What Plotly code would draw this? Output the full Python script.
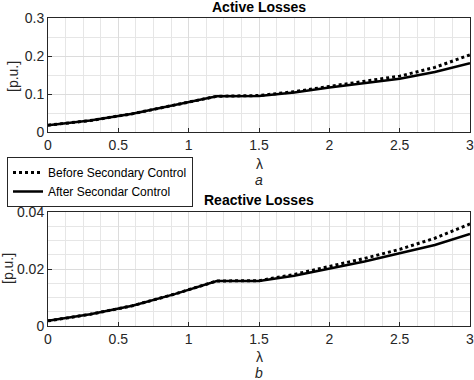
import plotly.graph_objects as go

lam = [0, 0.3, 0.6, 0.9, 1.2, 1.5, 1.75, 2.0, 2.25, 2.5, 2.75, 3.0]
active_before = [0.018, 0.030, 0.048, 0.072, 0.094, 0.096, 0.106, 0.120, 0.133, 0.147, 0.170, 0.203]
active_after = [0.018, 0.030, 0.048, 0.072, 0.094, 0.095, 0.104, 0.117, 0.128, 0.140, 0.158, 0.181]
reactive_before = [0.0018, 0.0041, 0.0071, 0.0112, 0.0158, 0.0159, 0.0181, 0.0208, 0.0237, 0.0269, 0.0308, 0.0358]
reactive_after = [0.0018, 0.0041, 0.0071, 0.0112, 0.0158, 0.0158, 0.0176, 0.0200, 0.0226, 0.0255, 0.0284, 0.0323]
x_ticks = [0, 0.5, 1, 1.5, 2, 2.5, 3]
x_labels = ["0", "0.5", "1", "1.5", "2", "2.5", "3"]
top_ticks = [0, 0.1, 0.2, 0.3]
top_labels = ["0", "0.1", "0.2", "0.3"]
bot_ticks = [0, 0.02, 0.04]
bot_labels = ["0", "0.02", "0.04"]
names = ["Before Secondary Control", "After Secondar Control"]

W, H = 474, 380
FONT = "Liberation Sans, Arial, sans-serif"
TXT = "#262626"

fig = go.Figure()
fig.add_trace(go.Scatter(x=lam, y=active_before, mode="lines", name=names[0],
                         line=dict(color="black", width=3, dash="dot"),
                         xaxis="x", yaxis="y"))
fig.add_trace(go.Scatter(x=lam, y=active_after, mode="lines", name=names[1],
                         line=dict(color="black", width=2.5),
                         xaxis="x", yaxis="y"))
fig.add_trace(go.Scatter(x=lam, y=reactive_before, mode="lines", showlegend=False,
                         line=dict(color="black", width=3, dash="dot"),
                         xaxis="x2", yaxis="y2"))
fig.add_trace(go.Scatter(x=lam, y=reactive_after, mode="lines", showlegend=False,
                         line=dict(color="black", width=2.5),
                         xaxis="x2", yaxis="y2"))

xd = [48 / W, 470 / W]
top_dom = [1 - 132 / H, 1 - 18 / H]
bot_dom = [1 - 326 / H, 1 - 212 / H]

def xaxis(anchor):
    return dict(domain=xd, range=[0, 3], tickvals=x_ticks, ticktext=x_labels,
                showline=True, linecolor="#262626", linewidth=1, mirror=True,
                ticks="inside", ticklen=4, tickcolor="#262626",
                showgrid=True, gridcolor="#dcdcdc", gridwidth=1,
                minor=dict(dtick=0.125, showgrid=True, gridcolor="#e6e6e6", ticks=""),
                zeroline=False, anchor=anchor, automargin=False,
                ticklabeloverflow="allow",
                tickfont=dict(family=FONT, size=14, color=TXT))

def yaxis(anchor, dom, rng, tv, tt, minor):
    return dict(domain=dom, range=rng, tickvals=tv, ticktext=tt,
                showline=True, linecolor="#262626", linewidth=1, mirror=True,
                ticks="inside", ticklen=4, tickcolor="#262626",
                showgrid=True, gridcolor="#dcdcdc", gridwidth=1,
                minor=dict(dtick=minor, showgrid=True, gridcolor="#e6e6e6", ticks=""),
                zeroline=False, anchor=anchor, automargin=False,
                ticklabeloverflow="allow",
                tickfont=dict(family=FONT, size=14, color=TXT))

fig.update_layout(
    width=W, height=H,
    margin=dict(l=0, r=0, t=0, b=0),
    paper_bgcolor="white", plot_bgcolor="white",
    showlegend=True,
    legend=dict(x=7 / W, y=1 - 157 / H, xanchor="left", yanchor="top",
                bordercolor="#262626", borderwidth=1, bgcolor="white",
                font=dict(family=FONT, size=12, color="black"),
                tracegroupgap=0, itemwidth=30),
    xaxis=xaxis("y"),
    yaxis=yaxis("x", top_dom, [0, 0.3], top_ticks, top_labels, 0.05),
    xaxis2=xaxis("y2"),
    yaxis2=yaxis("x2", bot_dom, [0, 0.04], bot_ticks, bot_labels, 0.005),
)

cx = (48 + 470) / 2 / W
ann = [
    dict(text="<b>Active Losses</b>", x=cx, y=1 - 7 / H),
    dict(text="<b>Reactive Losses</b>", x=cx, y=1 - 200 / H),
    dict(text="λ", x=cx, y=1 - 164 / H),
    dict(text="<i>a</i>", x=cx, y=1 - 180 / H),
    dict(text="λ", x=cx, y=1 - 357 / H),
    dict(text="<i>b</i>", x=cx, y=1 - 373 / H),
]
for a in ann:
    fig.add_annotation(text=a["text"], x=a["x"], y=a["y"], xref="paper", yref="paper",
                       showarrow=False, xanchor="center", yanchor="middle",
                       font=dict(family=FONT, size=14, color="black" if "<b>" in a["text"] else TXT))
fig.add_annotation(text="[p.u.]", x=13 / W, y=1 - 77 / H, xref="paper", yref="paper",
                   showarrow=False, textangle=-90, xanchor="center", yanchor="middle",
                   font=dict(family=FONT, size=14, color=TXT))
fig.add_annotation(text="[p.u.]", x=8 / W, y=1 - 269 / H, xref="paper", yref="paper",
                   showarrow=False, textangle=-90, xanchor="center", yanchor="middle",
                   font=dict(family=FONT, size=14, color=TXT))

fig.write_html("out.html", config={"displayModeBar": False},
               post_script="document.body.style.margin='0px';document.body.style.overflow='hidden';")
